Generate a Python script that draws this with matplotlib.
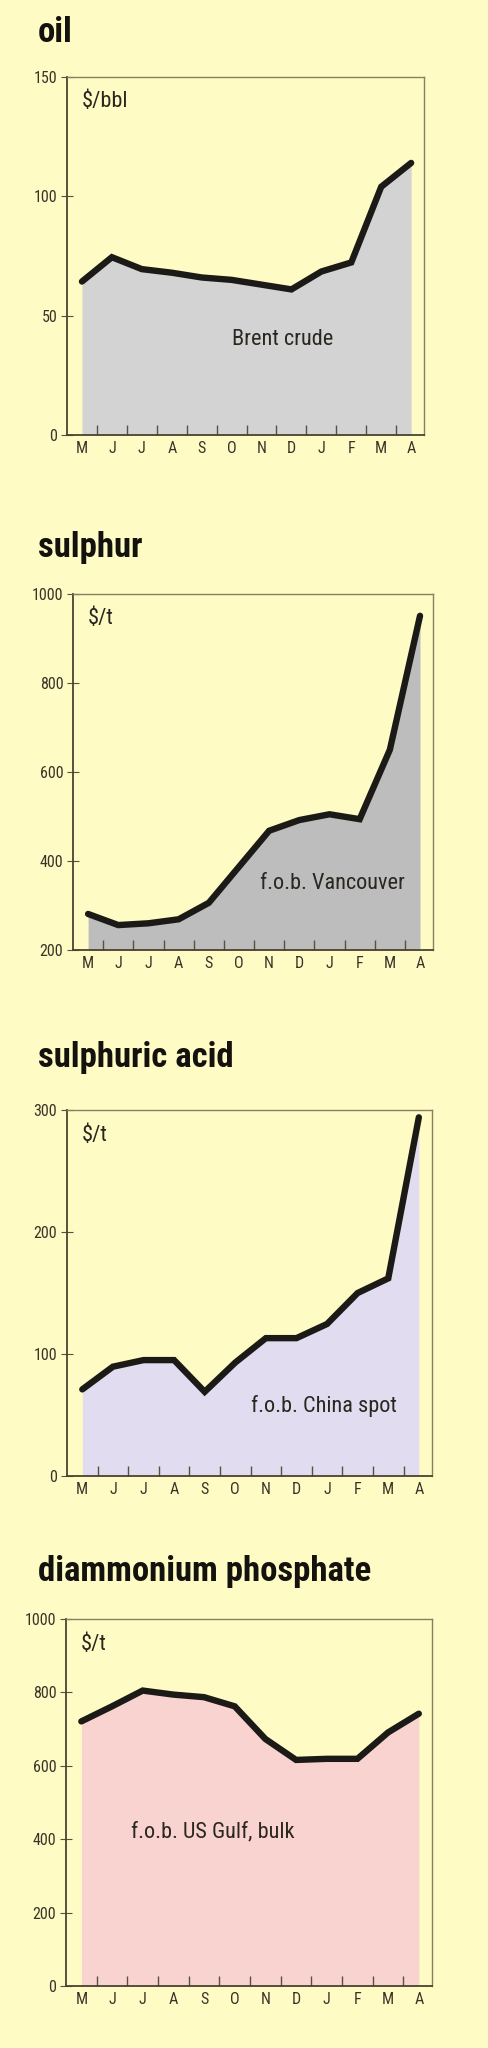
import matplotlib
matplotlib.use("Agg")
import matplotlib.pyplot as plt
import numpy as np

# month labels, May to April
months = ["M", "J", "J", "A", "S", "O", "N", "D", "J", "F", "M", "A"]

# values
oil = [64.3, 74.5, 69.5, 68, 66, 65, 63, 61, 68.5, 72.3, 104, 114]
sulphur = [281, 256, 260, 269, 306, 387, 468, 492, 505, 494, 650, 951]
acid = [71, 89.6, 95, 95, 69, 93, 113, 113, 124.6, 150, 162, 294]
dap = [721, 762, 805, 794, 787, 762, 673, 616, 619, 619, 691, 742]

titles = ["oil", "sulphur", "sulphuric acid", "diammonium phosphate"]
units = ["$/bbl", "$/t", "$/t", "$/t"]
notes = ["Brent crude", "f.o.b. Vancouver", "f.o.b. China spot", "f.o.b. US Gulf, bulk"]
yticks = [[0, 50, 100, 150], [200, 400, 600, 800, 1000],
          [0, 100, 200, 300], [0, 200, 400, 600, 800, 1000]]
fills = ["#d3d3d3", "#bdbdbd", "#e1dcf0", "#f9d3cf"]
series = [oil, sulphur, acid, dap]

bg = "#fffbc4"
W, H = 488, 2048
fig = plt.figure(figsize=(W / 100, H / 100), dpi=100, facecolor=bg)

# axes boxes in pixels: left, right, top, bottom
boxes = [(67, 424, 77, 435), (73, 433, 594, 950),
         (67, 432, 1110, 1476), (66, 432, 1619, 1986)]
title_y = [32, 547, 1058, 1572]
# position of the small labels inside each panel (data coords)
note_pos = [(6.7, 40), (8.1, 350), (7.9, 57), (4.28, 421)]

cond = ["Roboto Condensed", "DejaVu Sans"]

for i in range(4):
    l, r, t, b = boxes[i]
    ax = fig.add_axes([l / W, 1 - b / H, (r - l) / W, (b - t) / H])
    ax.set_facecolor(bg)
    x = np.arange(len(months))
    y = series[i]
    ax.fill_between(x, yticks[i][0], y, color=fills[i], lw=0)
    ax.plot(x, y, color="#1c1a17", lw=4.6, solid_joinstyle="miter", solid_capstyle="round")
    ax.set_xlim(-0.5, 11.43)
    ax.set_ylim(yticks[i][0], yticks[i][-1])
    ax.set_xticks(x)
    ax.set_xticklabels(months, family=cond, fontsize=11.5, color="#3a3328")
    ax.set_xticks(x[:-1] + 0.5, minor=True)
    ax.tick_params(axis="x", which="major", length=0, pad=4)
    ax.tick_params(axis="x", which="minor", direction="in", length=7, width=1, color="#5a5040")
    ax.set_yticks(yticks[i])
    ax.set_yticklabels([str(v) for v in yticks[i]], family=cond, fontsize=11.5, color="#3a3328")
    ax.tick_params(axis="y", direction="inout", length=8, width=0.8, color="#5a5040", pad=3)
    for s in ["left", "bottom"]:
        ax.spines[s].set_color("#4a4230")
        ax.spines[s].set_linewidth(1.3)
    for s in ["top", "right"]:
        ax.spines[s].set_color("#8a7f60")
        ax.spines[s].set_linewidth(1)
    ax.text(0.04, 0.96, units[i], transform=ax.transAxes, family=cond, fontsize=16,
            color="#2a2620", va="top", ha="left")
    nx, ny = note_pos[i]
    ax.text(nx, ny, notes[i], family=cond, fontsize=16, color="#2a2620",
            ha="center", va="center")
    fig.text(38 / W, 1 - title_y[i] / H, titles[i], family=cond, fontweight="bold",
             fontsize=25, color="#14120f", ha="left", va="center")

fig.savefig("out.png", dpi=100, facecolor=bg)
